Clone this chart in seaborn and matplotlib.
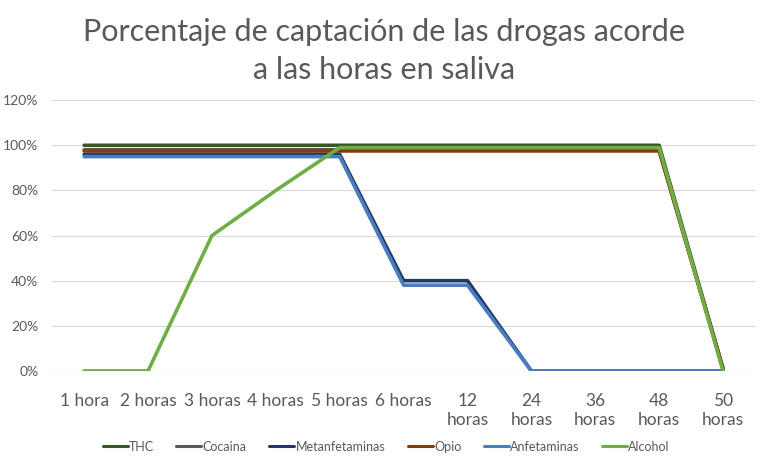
import matplotlib.pyplot as plt
import pandas as pd
import seaborn as sns
from matplotlib.ticker import PercentFormatter

# Horas de captación (categorías del eje x)
horas = ["1 hora", "2 horas", "3 horas", "4 horas", "5 horas", "6 horas",
         "12\nhoras", "24\nhoras", "36\nhoras", "48\nhoras", "50\nhoras"]

# Porcentaje de captación por droga
thc = [100, 100, 100, 100, 100, 100, 100, 100, 100, 100, 1]
cocaina = [98, 98, 98, 98, 98, 98, 98, 98, 98, 98, 1]
metanfetaminas = [96, 96, 96, 96, 96, 40, 40, 0, 0, 0, 0]
opio = [97.5, 97.5, 97.5, 97.5, 97.5, 97.5, 97.5, 97.5, 97.5, 97.5, 1]
anfetaminas = [95, 95, 95, 95, 95, 38, 38, 0, 0, 0, 0]
alcohol = [0, 0, 60, 80, 99, 99, 99, 99, 99, 99, 0]

drogas = ["THC", "Cocaina", "Metanfetaminas", "Opio", "Anfetaminas", "Alcohol"]
series = [thc, cocaina, metanfetaminas, opio, anfetaminas, alcohol]
colores = ["#375623", "#595959", "#1F3864", "#843C0C", "#4A7CC0", "#70AD47"]

df = pd.concat(
    [pd.DataFrame({"pos": range(len(horas)), "valor": v, "droga": d})
     for d, v in zip(drogas, series)],
    ignore_index=True,
)

sns.set_style("white")
plt.rcParams["font.family"] = ["Lato", "DejaVu Sans"]

fig = plt.figure(figsize=(7.68, 4.66), dpi=100)
ax = fig.add_axes([0.068, 0.204, 0.915, 0.581])

sns.lineplot(df, x="pos", y="valor", hue="droga", hue_order=drogas,
             palette=colores, linewidth=2.6, ax=ax)

ax.set_xlim(-0.5, len(horas) - 0.5)
ax.set_ylim(0, 120)
ax.set_yticks(range(0, 121, 20))
ax.yaxis.set_major_formatter(PercentFormatter(decimals=0))
ax.set_xticks(range(len(horas)))
ax.set_xticklabels(horas, linespacing=1.25)
ax.tick_params(axis="x", labelsize=12.5, colors="#595959", pad=16, length=0)
ax.tick_params(axis="y", labelsize=10, colors="#595959", length=0, pad=10)
ax.grid(axis="y", color="#D9D9D9", linewidth=0.9)
ax.set_axisbelow(True)
for s in ax.spines.values():
    s.set_visible(False)
ax.set_xlabel("")
ax.set_ylabel("")

leg = ax.legend(loc="center", bbox_to_anchor=(0.475, -0.28), ncol=6, frameon=False,
                fontsize=9, handlelength=2.0, handletextpad=0.1, columnspacing=1.8,
                labelcolor="#595959")
for h in leg.get_lines():
    h.set_linewidth(2.2)

fig.suptitle("Porcentaje de captación de las drogas acorde\na las horas en saliva",
             y=0.962, fontsize=22, color="#595959", linespacing=1.45)

fig.savefig("out.png", dpi=100)
